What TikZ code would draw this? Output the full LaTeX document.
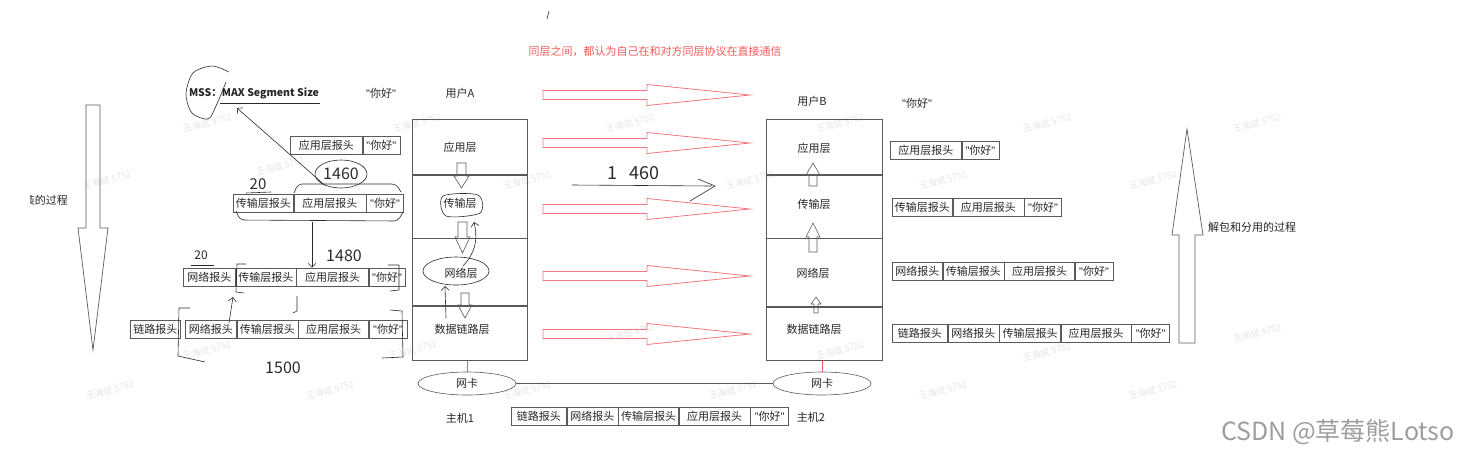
\documentclass[tikz,border=0pt]{standalone}
\usepackage{fontspec}
\setmainfont{Noto Sans CJK SC}
\newfontfamily\latinfont{Liberation Sans}
\newcommand{\nihao}{{\latinfont"}你好{\latinfont"}}
\usetikzlibrary{shapes.geometric, arrows.meta, positioning, calc}
\definecolor{LineGray}{HTML}{5A5A5A}
\definecolor{DarkText}{HTML}{262626}
\definecolor{NoteRed}{HTML}{F25A5A}
\definecolor{ArrowRed}{HTML}{F0787C}
\definecolor{InkBlack}{HTML}{2B2B2B}
\definecolor{MarkGray}{HTML}{E4E4E4}

\tikzset{
  pkt/.style={draw=LineGray, line width=0.6pt, minimum width=#1, minimum height=18,
    inner xsep=1pt, inner ysep=0pt, font=\fontsize{11}{12}\selectfont, text=DarkText},
  layer/.style={draw=LineGray, line width=0.7pt, minimum width=115, inner sep=0pt},
  lbl/.style={font=\fontsize{11}{12}\selectfont, text=DarkText, inner sep=0pt},
  nic/.style={ellipse, draw=LineGray, line width=0.6pt, minimum width=98, minimum height=23,
    inner sep=0pt, font=\fontsize{11}{12}\selectfont, text=DarkText},
  hollow/.style={draw=LineGray, line width=0.6pt},
  redarrow/.style={draw=ArrowRed, line width=0.8pt},
  hand/.style={draw=InkBlack, line width=0.6pt},
  handarrow/.style={hand, -{Straight Barb[length=4pt, width=8pt]}},
  note/.style={font=\fontsize{16}{16}\selectfont, text=InkBlack, inner sep=0pt},
  wmark/.style={font=\fontsize{9}{9}\selectfont, text=MarkGray, rotate=15, inner sep=0pt}
}

\begin{document}
\begin{tikzpicture}[x=1pt, y=-1pt]
\useasboundingbox (0,0) rectangle (1460,459);

% watermarks
\foreach \wx/\wy [count=\wi] in {207/123, 417/123, 630/123, 840/123, 1047/123, 1257/123,
    107/180, 280/166, 527/180, 750/180, 943/180, 1153/180,
    207/350, 413/350, 630/333, 840/350, 1047/352, 1257/333,
    110/390, 330/390, 527/390, 733/390, 943/390, 1153/390}
  \node[wmark] (wm\wi) at (\wx,\wy) {王海斌 5752};

% title
\draw[hand] (549,11) -- (547,19);
\node[lbl, text=NoteRed] (title) at (655,51) {同层之间，都认为自己在和对方同层协议在直接通信};

% big arrows left / right
\draw[hollow, line width=0.7pt] (86,105) -- (100,105) -- (100,228) -- (108,228) -- (93,350) -- (78,228) -- (86,228) -- cycle;
\begin{scope}
  \clip (30,185) rectangle (80,215);
  \node[lbl, anchor=east] (packtxt) at (68,200) {装的过程};
\end{scope}
\draw[hollow, line width=0.7pt] (1179,343) -- (1195,343) -- (1195,235) -- (1203,235) -- (1187,129) -- (1172,235) -- (1179,235) -- cycle;
\node[lbl, anchor=west] (unpacktxt) at (1208,227) {解包和分用的过程};

% MSS note
\node[font=\bfseries\fontsize{10.5}{12}\selectfont, text=DarkText, inner sep=0pt] (mss) at (254,93) {MSS：MAX Segment Size};
\coordinate (mssL) at (220,103);
\coordinate (mssR) at (320,103);
\draw[hand] (mssL) -- (mssR);
\draw[hand] plot[smooth] coordinates {(229,72) (212,66) (193,73) (186,94) (192,113) (208,119) (216,106) (226,82)};
\node[lbl] (hiA) at (381,93) {\nihao};

% left packets
\node[pkt=72, anchor=west] (a1) at (290,145) {应用层报头};
\node[pkt=37, right=0pt of a1] (a2) {\nihao};

\node[pkt=60, anchor=west] (b1) at (233,203) {传输层报头};
\node[pkt=72, right=0pt of b1] (b2) {应用层报头};
\node[pkt=37, right=0pt of b2] (b3) {\nihao};

\node[pkt=52, anchor=west] (c1) at (183,277) {网络报头};
\node[pkt=60, right=0pt of c1] (c2) {传输层报头};
\node[pkt=72, right=0pt of c2] (c3) {应用层报头};
\node[pkt=36, right=0pt of c3] (c4) {\nihao};

\node[pkt=50, anchor=west] (d0) at (130,329) {链路报头};
\node[pkt=51, anchor=west] (d1) at (185,329) {网络报头};
\node[pkt=61, right=0pt of d1] (d2) {传输层报头};
\node[pkt=70, right=0pt of d2] (d3) {应用层报头};
\node[pkt=38, right=0pt of d3] (d4) {\nihao};

% hand notes on the left packets
\node[note, font=\fontsize{15}{15}\selectfont] (n20b) at (258,184) {20};
\draw[hand] (246,193) -- (271,192);
\node[note, ellipse, hand, minimum width=52, minimum height=28] (c1460) at (341,174) {1460};
\coordinate (mssTip) at (237,108);
\draw[handarrow] (c1460.215) -- (mssTip);
\draw[hand, rounded corners=4pt] (294,193) -- (298,184) -- (396,184) -- (401,192);
\draw[hand, rounded corners=4pt] (236,211) -- (240,220) -- (398,221) -- (403,212);
\coordinate (dropA) at (312,222);
\draw[handarrow] (dropA) -- (dropA |- c3.north);

\node[note, font=\fontsize{12}{12}\selectfont] (n20c) at (201,255) {20};
\draw[hand] (191,265) -- (214,265);
\node[note] (n1480) at (344,256) {1480};
\draw[hand] (246,264) -- (237,264) -- (236,292) -- (244,293);
\draw[hand] (388,265) -- (399,265) -- (399,290) -- (390,291);
\draw[hand] (297,296) -- (297,311) -- (293,313);
\coordinate (upL) at (229,323);
\coordinate (upT) at (233,297);
\draw[handarrow] (upL) -- (upT);

\draw[hand] (190,308) -- (179,308) -- (178,356) -- (205,362);
\draw[hand] (390,310) -- (402,311) -- (403,357) -- (382,358);
\node[note] (n1500) at (283,368) {1500};

% host A
\node[lbl] (userA) at (460,93) {用户A};
\node[layer, minimum height=55, anchor=north west] (Aapp) at (412,119) {};
\node[layer, minimum height=63, below=0pt of Aapp] (Atrn) {};
\node[layer, minimum height=67, below=0pt of Atrn] (Anet) {};
\node[layer, minimum height=54, below=0pt of Anet] (Alink) {};
\node[lbl] (AappT) at (460,147) {应用层};
\node[lbl] (AtrnT) at (460,203) {传输层};
\node[lbl] (AnetT) at (461,273) {网络层};
\node[lbl] (AlinkT) at (462,329) {数据链路层};
\draw[hollow] (457,163) -- (466,163) -- (466,176) -- (469,176) -- (461.5,188) -- (454,176) -- (457,176) -- cycle;
\draw[hollow] (458,222) -- (467,222) -- (467,237) -- (470,237) -- (462.5,253) -- (455,237) -- (458,237) -- cycle;
\draw[hollow] (461,293) -- (469,293) -- (469,305) -- (472,305) -- (465,318) -- (458,305) -- (461,305) -- cycle;
% hand marks on host A
\draw[hand] plot[smooth cycle] coordinates {(443,196) (478,195) (480,213) (446,216)};
\draw[hand] (456,271) ellipse [x radius=33, y radius=14];
\draw[handarrow] (446,318) -- (445,286);
\draw[handarrow] (463,266) .. controls (478,250) and (477,235) .. (474,222);

% host B
\node[lbl] (userB) at (812,101) {用户B};
\node[lbl] (hiB) at (917,103) {\nihao};
\node[layer, minimum width=116, minimum height=55, anchor=north west] (Bapp) at (766,119) {};
\node[layer, minimum width=116, minimum height=63, below=0pt of Bapp] (Btrn) {};
\node[layer, minimum width=116, minimum height=68, below=0pt of Btrn] (Bnet) {};
\node[layer, minimum width=116, minimum height=53, below=0pt of Bnet] (Blink) {};
\node[lbl] (BappT) at (814,148) {应用层};
\node[lbl] (BtrnT) at (814,204) {传输层};
\node[lbl] (BnetT) at (813,273) {网络层};
\node[lbl] (BlinkT) at (814,329) {数据链路层};
\draw[hollow] (809,186) -- (817,186) -- (817,175) -- (820,175) -- (813,163) -- (806,175) -- (809,175) -- cycle;
\draw[hollow] (809,252) -- (817,252) -- (817,237) -- (820,237) -- (813,223) -- (806,237) -- (809,237) -- cycle;
\draw[hollow] (814,313) -- (818,313) -- (818,304) -- (821,304) -- (816,297) -- (811,304) -- (814,304) -- cycle;

% peer arrows
\foreach \y in {95,143,209,276,334}
  \draw[redarrow] (543,\y-4.5) -- (647,\y-4.5) -- (647,\y-10.5) -- (750,\y) -- (647,\y+10.5) -- (647,\y+4.5) -- (543,\y+4.5) -- cycle;
\node[note, font=\fontsize{18}{18}\selectfont, anchor=west] (n1460m) at (607,173) {1\hspace{12pt}460};
\coordinate (hsL) at (572,185);
\coordinate (hsR) at (712,186);
\draw[hand] (hsL) -- (hsR);
\draw[hand] (698,179) -- (715,186) -- (690,201);

% network cards
\node[nic] (nicA) at (467,383.5) {网卡};
\node[nic] (nicB) at (822,383.5) {网卡};
\draw[draw=NoteRed, line width=0.7pt] (nicA.north |- Alink.south) -- (nicA.north);
\draw[draw=NoteRed, line width=0.7pt] (nicB.north |- Blink.south) -- (nicB.north);
\draw[hollow] (nicA.east) -- (nicB.west);
\node[lbl] (host1) at (460,418) {主机1};
\node[lbl] (host2) at (811,417) {主机2};

% frame on the wire
\node[pkt=55, anchor=west] (e1) at (511,416.5) {链路报头};
\node[pkt=51, right=0pt of e1] (e2) {网络报头};
\node[pkt=60, right=0pt of e2] (e3) {传输层报头};
\node[pkt=71, right=0pt of e3] (e4) {应用层报头};
\node[pkt=38, right=0pt of e4] (e5) {\nihao};

% right packets
\node[pkt=71, anchor=west] (f1) at (890,150) {应用层报头};
\node[pkt=37, right=0pt of f1] (f2) {\nihao};

\node[pkt=60, anchor=west] (g1) at (892,207.5) {传输层报头};
\node[pkt=71, right=0pt of g1] (g2) {应用层报头};
\node[pkt=37, right=0pt of g2] (g3) {\nihao};

\node[pkt=50, anchor=west] (h1) at (892,271) {网络报头};
\node[pkt=61, right=0pt of h1] (h2) {传输层报头};
\node[pkt=70, right=0pt of h2] (h3) {应用层报头};
\node[pkt=38, right=0pt of h3] (h4) {\nihao};

\node[pkt=55, anchor=west] (k1) at (892,333) {链路报头};
\node[pkt=51, right=0pt of k1] (k2) {网络报头};
\node[pkt=61, right=0pt of k2] (k3) {传输层报头};
\node[pkt=70, right=0pt of k3] (k4) {应用层报头};
\node[pkt=38, right=0pt of k4] (k5) {\nihao};

% site mark
\node[font=\fontsize{25}{27}\selectfont, text=black!38, anchor=east, inner sep=0pt] (csdn) at (1455,432) {CSDN @草莓熊Lotso};
\end{tikzpicture}
\end{document}
